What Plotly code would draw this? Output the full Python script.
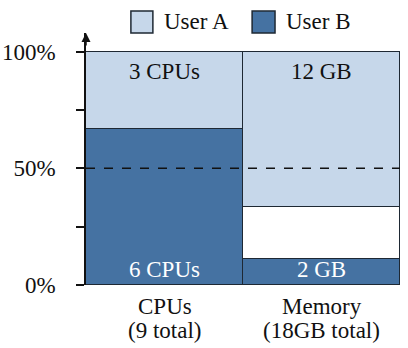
import plotly.graph_objects as go

# Resource allocation data
resources = ["CPUs", "Memory"]
totals = [9, 18]
units = [" CPUs", " GB"]
user_a = [3, 12]
user_b = [6, 2]
unallocated = [0, 4]
tick_labels = ["CPUs", "Memory"]
tick_sublabels = ["(9 total)", "(18GB total)"]

LIGHT = "#C6D7EA"
DARK = "#4572A2"
EDGE = "#1E2833"
FONT = "Liberation Serif"
FS = 23

def pct(vals):
    return [v / t * 100 for v, t in zip(vals, totals)]

xpos = [0, 1]

fig = go.Figure()
line = dict(color=EDGE, width=1.5)
fig.add_trace(go.Bar(x=xpos, y=pct(user_b), width=1, marker=dict(color=DARK, line=line),
                     name="User B", showlegend=False))
fig.add_trace(go.Bar(x=xpos, y=pct(unallocated), width=1, marker=dict(color="white", line=line),
                     name="Free", showlegend=False))
fig.add_trace(go.Bar(x=xpos, y=pct(user_a), width=1, marker=dict(color=LIGHT, line=line),
                     name="User A", showlegend=False))

# value labels inside bars
for i in range(len(resources)):
    fig.add_annotation(x=xpos[i], y=100, yshift=-20, text=f"{user_a[i]}{units[i]}",
                       showarrow=False, font=dict(family=FONT, size=FS, color="#111"))
    fig.add_annotation(x=xpos[i], y=0, yshift=16, text=f"{user_b[i]}{units[i]}",
                       showarrow=False, font=dict(family=FONT, size=FS, color="white"))
    # two-line category labels under the axis
    fig.add_annotation(x=xpos[i], y=0, yshift=-21, text=tick_labels[i],
                       showarrow=False, font=dict(family=FONT, size=FS, color="#111"))
    fig.add_annotation(x=xpos[i], y=0, yshift=-45, text=tick_sublabels[i],
                       showarrow=False, font=dict(family=FONT, size=FS, color="#111"))

# 50% reference line
fig.add_shape(type="line", xref="paper", x0=0, x1=1, y0=50, y1=50,
              line=dict(color="#111", width=1.5, dash="dash"))

# arrowhead on the y axis
fig.add_annotation(xref="paper", x=0, y=108, ax=0, ay=14, showarrow=True,
                   arrowhead=2, arrowsize=1.2, arrowwidth=1.5, arrowcolor="#111", text="")

# legend drawn as swatches + labels
legend_items = [("User A", LIGHT, 0.143, 0.213), ("User B", DARK, 0.529, 0.602)]
for label, col, x0, x1 in legend_items:
    fig.add_shape(type="rect", xref="paper", yref="paper", x0=x0, x1=x1, y0=1.0, y1=1.087,
                  fillcolor=col, line=dict(color=EDGE, width=1.5))
    fig.add_annotation(xref="paper", yref="paper", x=x1 + 0.03, y=1.044, xanchor="left",
                       yanchor="middle", text=label, showarrow=False,
                       font=dict(family=FONT, size=FS, color="#111"))

fig.update_layout(
    width=408, height=348,
    margin=dict(l=86, r=8, t=33, b=63, autoexpand=False),
    barmode="stack", bargap=0,
    plot_bgcolor="white", paper_bgcolor="white",
    font=dict(family=FONT, size=FS, color="#111"),
    showlegend=False,
    xaxis=dict(range=[-0.5, 1.5], tickvals=xpos, showticklabels=False, showgrid=False,
               zeroline=False, showline=False, ticks="", automargin=False),
    yaxis=dict(range=[0, 108], tickvals=[0, 25, 50, 75, 100],
               ticktext=["0%", "", "50%", "", "100%"], showgrid=False, zeroline=False,
               showline=True, linecolor="#111", linewidth=1.5, ticks="outside", ticklen=8,
               tickwidth=1.5, tickcolor="#111", ticklabelstandoff=16, automargin=False),
)

fig.write_html("out.html")
